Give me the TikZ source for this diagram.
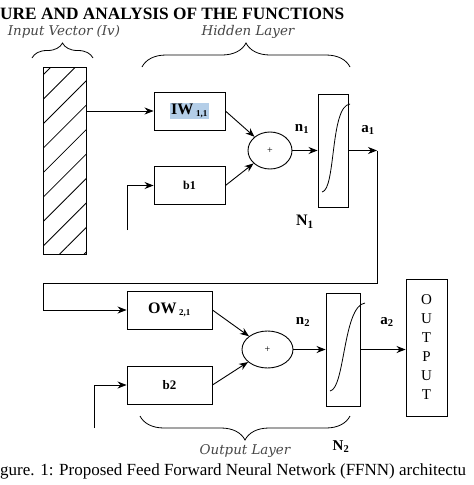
\documentclass[tikz,border=0pt]{standalone}
\usepackage{fontspec}
\setmainfont{Liberation Serif}
\newfontfamily\layerfont{DejaVu Serif}
\usetikzlibrary{arrows.meta,shapes.geometric,patterns.meta,decorations.pathreplacing}
\definecolor{selblue}{RGB}{180,206,232}
\definecolor{labelgrey}{RGB}{70,70,70}
\setlength{\fboxsep}{1pt}

\begin{document}
\begin{tikzpicture}[x=1pt, y=-1pt,
	box/.style={
		draw, line width=0.9pt, inner sep=0pt,
		minimum width=71pt, minimum height=38pt,
		font=\bfseries\fontsize{13}{15}\selectfont
	},
	actbox/.style={draw, line width=0.9pt, inner sep=0pt},
	sumnode/.style={draw, ellipse, line width=0.9pt, inner sep=0pt, font=\fontsize{10}{12}\selectfont},
	arr/.style={->, >={Stealth[length=9pt,width=7pt]}, line width=0.9pt},
	brc/.style={decorate, decoration={brace, amplitude=#1}, line width=0.8pt},
	layer/.style={font=\layerfont\itshape\fontsize{13.4}{15}\selectfont, text=labelgrey},
	sig/.style={line width=0.8pt},
	lbl/.style={font=\bfseries\fontsize{15}{17}\selectfont, inner sep=0pt}
]
\useasboundingbox (0,0) rectangle (474,485);

% Title line (cut at the page edge)
\node[font=\bfseries\fontsize{17.3}{20}\selectfont, anchor=west, inner sep=0pt] (title) at (0,14) {URE AND ANALYSIS OF THE FUNCTIONS};

% Input vector column: x 43..86, y 67..254
\node[actbox, minimum width=43pt, minimum height=187pt,
	pattern={Lines[angle=45,distance=17.3pt,line width=0.8pt]}] (iv) at (64.5,160.5) {};

% Hidden layer
\node[box, font=\bfseries\fontsize{16}{18}\selectfont] (iw) at (189.5,111) {\colorbox{selblue}{IW\,\textsubscript{\fontsize{9}{10}\selectfont 1,1}}};
\node[box, font=\bfseries\fontsize{12}{14}\selectfont] (b1) at (189.5,185.5) {b1};
\node[sumnode, minimum width=44pt, minimum height=37pt] (s1) at (270,150.5) {+};
\node[actbox, minimum width=30pt, minimum height=113pt] (n1) at (333,150.5) {};

% Output layer
\node[box, minimum width=85pt, font=\bfseries\fontsize{16}{18}\selectfont] (ow) at (169.5,310) {OW\,\textsubscript{\fontsize{9}{10}\selectfont 2,1}};
\node[box, minimum width=85pt] (b2) at (169.5,385) {b2};
\node[sumnode, minimum width=51pt, minimum height=37pt] (s2) at (267.5,349.5) {+};
\node[actbox, minimum width=34pt, minimum height=113pt] (n2) at (343,349.5) {};
\node[actbox, minimum width=41pt, minimum height=137pt, align=center,
	font=\fontsize{15}{19}\selectfont] (out) at (426.5,347.5) {O\\U\\T\\P\\U\\T};

% Free ends of the bias inputs and the feedback line
\coordinate (b1in) at (127,230);
\coordinate (b2in) at (94,428);
\coordinate (fbr) at (377,283);
\coordinate (fbl) at (43,283);
\coordinate (a1) at (n1.east -| fbr);

% Hidden layer connectors
\draw[arr] (iv.east |- iw.west) -- (iw.west);
\draw[arr] (b1in) |- (b1.west);
\draw[arr] (iw.east) -- (s1);
\draw[arr] (b1.east) -- (s1);
\draw[arr] (s1.east) -- (s1.east -| n1.west);
\draw[arr] (n1.east) -- (a1);

% Feedback: down, across to the left, then into OW
\draw[arr] (a1) -- (fbr) -- (fbl) |- (ow.west);

% Output layer connectors
\draw[arr] (b2in) |- (b2.west);
\draw[arr] (ow.east) -- (s2);
\draw[arr] (b2.east) -- (s2);
\draw[arr] (s2.east) -- (s2.east -| n2.west);
\draw[arr] (n2.east) -- (n2.east -| out.west);

% Sigmoid curves inside the transfer boxes
\draw[sig] ([shift={(-11,41.5)}]n1.center) .. controls ([shift={(3,39.5)}]n1.center) and ([shift={(-3,-44.5)}]n1.center) .. ([shift={(17,-46.5)}]n1.center);
\draw[sig] ([shift={(-13,41.5)}]n2.center) .. controls ([shift={(2,39.5)}]n2.center) and ([shift={(0,-43.5)}]n2.center) .. ([shift={(22,-46.5)}]n2.center);

% Signal labels
\node[lbl] (n1lbl) at (302,129) {n\textsubscript{1}};
\node[lbl] (a1lbl) at (368,130) {a\textsubscript{1}};
\node[lbl, font=\bfseries\fontsize{16}{18}\selectfont] (N1lbl) at (305,222) {N\textsubscript{1}};
\node[lbl] (n2lbl) at (303,322) {n\textsubscript{2}};
\node[lbl] (a2lbl) at (387,322) {a\textsubscript{2}};
\node[lbl] (N2lbl) at (341,447) {N\textsubscript{2}};

% Braces and layer names
\draw[brc=15pt] (32,58) -- (93,58);
\draw[brc=24pt] (142,67) -- (350,67);
\draw[brc=24pt] (350,416) -- (140,416);
\node[layer] (ivlbl) at (64,32) {Input Vector (Iv)};
\node[layer] (hlbl) at (248,32) {Hidden Layer};
\node[layer] (olbl) at (245,451) {Output Layer};

% Caption (cut at the page edge)
\node[font=\fontsize{17}{20}\selectfont, anchor=west, inner sep=0pt] (cap) at (0,471) {gure. 1: Proposed Feed Forward Neural Network (FFNN) architectu};

\end{tikzpicture}
\end{document}
